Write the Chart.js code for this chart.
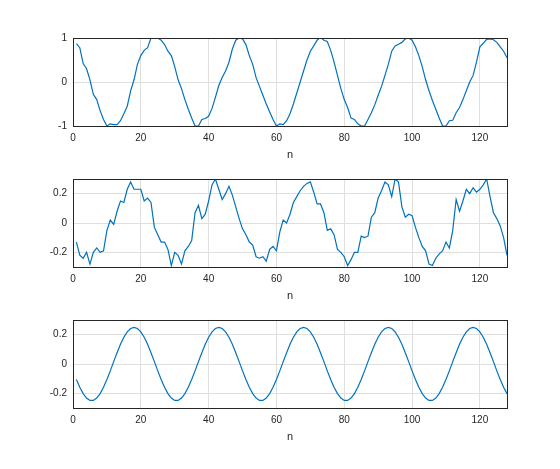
<!DOCTYPE html>
<html>
<head>
<meta charset="utf-8">
<script src="https://cdn.jsdelivr.net/npm/chart.js@4"></script>
<style>
  body { margin: 0; background: #fff; }
  .box { position: absolute; left: 0; width: 560px; height: 140px; }
</style>
</head>
<body>
<div class="box" style="top:26px"><canvas id="c1"></canvas></div>
<div class="box" style="top:167px"><canvas id="c2"></canvas></div>
<div class="box" style="top:308px"><canvas id="c3"></canvas></div>
<script>
// sample index n = 1..128
const n = Array.from({ length: 128 }, (_, i) => i + 1);

const signalTop = [
  0.87, 0.78, 0.42, 0.30, 0.05, -0.28, -0.40, -0.65, -0.85, -1.0,
  -0.95, -0.97, -0.97, -0.88, -0.72, -0.55, -0.20, 0.05, 0.40, 0.60,
  0.72, 0.78, 1.0, 1.02, 1.0, 0.95, 0.85, 0.70, 0.60, 0.35,
  0.05, -0.15, -0.40, -0.62, -0.82, -1.0, -1.0, -0.85, -0.83, -0.78,
  -0.60, -0.35, -0.08, 0.10, 0.25, 0.45, 0.75, 0.95, 1.0, 0.98,
  0.85, 0.60, 0.40, 0.10, -0.10, -0.30, -0.50, -0.68, -0.85, -1.0,
  -0.95, -0.97, -0.88, -0.72, -0.50, -0.25, 0.0, 0.25, 0.50, 0.70,
  0.82, 0.95, 1.02, 0.95, 0.92, 0.72, 0.45, 0.15, -0.15, -0.40,
  -0.58, -0.82, -0.85, -0.95, -1.0, -1.0, -0.85, -0.70, -0.52, -0.30,
  -0.10, 0.15, 0.40, 0.70, 0.82, 0.86, 0.90, 0.98, 1.0, 0.95,
  0.80, 0.60, 0.35, 0.05, -0.20, -0.42, -0.62, -0.82, -1.0, -1.0,
  -0.88, -0.87, -0.70, -0.58, -0.40, -0.20, 0.0, 0.15, 0.45, 0.80,
  0.88, 0.97, 0.98, 0.96, 0.90, 0.80, 0.70, 0.55
];

const signalMid = [
  -0.13, -0.22, -0.24, -0.20, -0.28, -0.20, -0.17, -0.20, -0.19, -0.05,
  0.02, -0.01, 0.08, 0.15, 0.14, 0.23, 0.28, 0.23, 0.23, 0.23,
  0.15, 0.17, 0.14, -0.03, -0.08, -0.13, -0.13, -0.18, -0.29, -0.20,
  -0.22, -0.28, -0.19, -0.16, -0.12, 0.07, 0.12, 0.03, 0.06, 0.15,
  0.26, 0.30, 0.23, 0.16, 0.20, 0.25, 0.19, 0.11, 0.03, -0.04,
  -0.08, -0.13, -0.15, -0.23, -0.24, -0.23, -0.26, -0.18, -0.16, -0.19,
  -0.06, 0.02, 0.00, 0.06, 0.14, 0.18, 0.22, 0.25, 0.27, 0.28,
  0.21, 0.13, 0.13, 0.07, -0.05, -0.04, -0.08, -0.18, -0.20, -0.23,
  -0.29, -0.25, -0.20, -0.20, -0.09, -0.10, -0.09, 0.04, 0.07, 0.17,
  0.22, 0.28, 0.26, 0.18, 0.30, 0.28, 0.11, 0.04, 0.06, 0.05,
  -0.03, -0.10, -0.16, -0.19, -0.28, -0.29, -0.24, -0.21, -0.19, -0.13,
  -0.17, -0.05, 0.16, 0.08, 0.15, 0.23, 0.20, 0.24, 0.21, 0.23,
  0.26, 0.30, 0.18, 0.07, 0.03, -0.02, -0.10, -0.22
];

const signalLow = [
  -0.106, -0.159, -0.202, -0.232, -0.248, -0.248, -0.232, -0.202, -0.159, -0.106,
  -0.047, 0.016, 0.077, 0.134, 0.182, 0.219, 0.242, 0.250, 0.242, 0.219,
  0.182, 0.134, 0.077, 0.016, -0.047,
  -0.106, -0.159, -0.202, -0.232, -0.248, -0.248, -0.232, -0.202, -0.159, -0.106,
  -0.047, 0.016, 0.077, 0.134, 0.182, 0.219, 0.242, 0.250, 0.242, 0.219,
  0.182, 0.134, 0.077, 0.016, -0.047,
  -0.106, -0.159, -0.202, -0.232, -0.248, -0.248, -0.232, -0.202, -0.159, -0.106,
  -0.047, 0.016, 0.077, 0.134, 0.182, 0.219, 0.242, 0.250, 0.242, 0.219,
  0.182, 0.134, 0.077, 0.016, -0.047,
  -0.106, -0.159, -0.202, -0.232, -0.248, -0.248, -0.232, -0.202, -0.159, -0.106,
  -0.047, 0.016, 0.077, 0.134, 0.182, 0.219, 0.242, 0.250, 0.242, 0.219,
  0.182, 0.134, 0.077, 0.016, -0.047,
  -0.106, -0.159, -0.202, -0.232, -0.248, -0.248, -0.232, -0.202, -0.159, -0.106,
  -0.047, 0.016, 0.077, 0.134, 0.182, 0.219, 0.242, 0.250, 0.242, 0.219,
  0.182, 0.134, 0.077, 0.016, -0.047,
  -0.106, -0.159, -0.202
];

const xTicks = [0, 20, 40, 60, 80, 100, 120];
const yTicksTop = [-1, 0, 1];
const yTicksSmall = [-0.2, 0, 0.2];

const textColor = '#262626';

// MATLAB-like box around the axes
const boxPlugin = {
  id: 'box',
  afterDraw(chart) {
    const { ctx, chartArea: a } = chart;
    ctx.save();
    ctx.strokeStyle = '#262626';
    ctx.lineWidth = 1;
    ctx.strokeRect(a.left + 0.5, a.top + 0.5, a.right - a.left, a.bottom - a.top);
    ctx.restore();
  }
};

const makeChart = (id, values, yMin, yMax, yTicks) => {
  new Chart(document.getElementById(id), {
    type: 'line',
    data: {
      datasets: [{
        data: n.map((x, i) => ({ x, y: values[i] })),
        borderColor: '#0072BD',
        borderWidth: 1.2,
        pointRadius: 0,
        tension: 0,
        fill: false
      }]
    },
    options: {
      animation: false,
      responsive: true,
      maintainAspectRatio: false,
      layout: { padding: { top: 10, right: 53, left: 0, bottom: 0 } },
      plugins: { legend: { display: false }, tooltip: { enabled: false } },
      scales: {
        x: {
          type: 'linear',
          min: 0,
          max: 128,
          afterBuildTicks: s => { s.ticks = xTicks.map(v => ({ value: v })); },
          afterFit: s => { s.height = 40; },
          grid: { color: '#dfdfdf', drawTicks: false },
          border: { display: false },
          ticks: { color: textColor, font: { family: 'Arial, Liberation Sans', size: 10 }, padding: 6, maxRotation: 0 },
          title: { display: true, text: 'n', color: textColor, font: { family: 'Arial, Liberation Sans', size: 11 }, padding: { top: 3 } }
        },
        y: {
          min: yMin,
          max: yMax,
          afterBuildTicks: s => { s.ticks = yTicks.map(v => ({ value: v })); },
          afterFit: s => { s.width = 73; },
          grid: { color: '#dfdfdf', drawTicks: false },
          border: { display: false },
          ticks: { color: textColor, font: { family: 'Arial, Liberation Sans', size: 10 }, padding: 6 }
        }
      }
    },
    plugins: [boxPlugin]
  });
};

makeChart('c1', signalTop, -1, 1, yTicksTop);
makeChart('c2', signalMid, -0.3, 0.3, yTicksSmall);
makeChart('c3', signalLow, -0.3, 0.3, yTicksSmall);
</script>
</body>
</html>
